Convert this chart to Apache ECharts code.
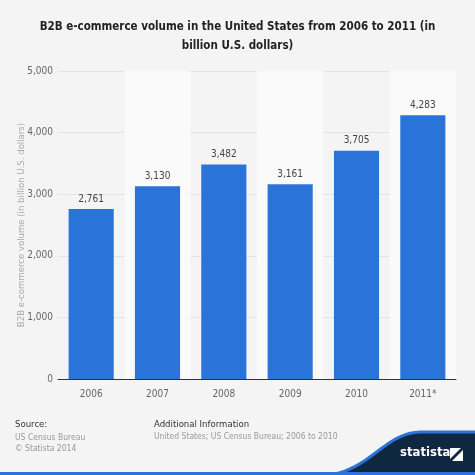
<!DOCTYPE html>
<html>
<head>
<meta charset="utf-8">
<script src="https://cdn.jsdelivr.net/npm/echarts@6/dist/echarts.min.js"></script>
<style>
  html, body { margin: 0; padding: 0; background: #f4f4f4; }
  #main { width: 475px; height: 475px; }
</style>
</head>
<body>
<div id="main"></div>
<script>
// data
const years = ['2006', '2007', '2008', '2009', '2010', '2011*'];
const volumes = [2761, 3130, 3482, 3161, 3705, 4283];
const yTicks = [0, 1000, 2000, 3000, 4000, 5000];

const FONT = '"DejaVu Sans Condensed", "Liberation Sans", sans-serif';

const chart = echarts.init(document.getElementById('main'));

function fmt(v) {
    return v.toString().replace(/\B(?=(\d{3})+(?!\d))/g, ',');
}

// logo wave outline (decoration only)
const wave = [];
const p0 = [328, 475], p1 = [370, 470], p2 = [385, 433], p3 = [420, 432];
for (let i = 0; i <= 20; i++) {
    const t = i / 20, u = 1 - t;
    wave.push([
        u * u * u * p0[0] + 3 * u * u * t * p1[0] + 3 * u * t * t * p2[0] + t * t * t * p3[0],
        u * u * u * p0[1] + 3 * u * u * t * p1[1] + 3 * u * t * t * p2[1] + t * t * t * p3[1]
    ]);
}
wave.push([475, 432]);

const option = {
    backgroundColor: '#f4f4f4',
    animation: false,
    title: {
        text: 'B2B e-commerce volume in the United States from 2006 to 2011 (in\nbillion U.S. dollars)',
        left: 'center',
        top: 13,
        textStyle: {
            fontFamily: FONT,
            fontSize: 11.5,
            fontWeight: 'bold',
            color: '#222',
            lineHeight: 19
        }
    },
    grid: {
        left: 58,
        right: 19,
        top: 71,
        bottom: 96
    },
    xAxis: {
        type: 'category',
        data: years,
        axisLine: { show: true, lineStyle: { color: '#333', width: 1 } },
        axisTick: { show: false },
        axisLabel: {
            color: '#666',
            fontFamily: FONT,
            fontSize: 10,
            margin: 10
        },
        splitArea: {
            show: true,
            areaStyle: { color: ['rgba(0,0,0,0)', '#fafafa'] }
        }
    },
    yAxis: {
        type: 'value',
        min: yTicks[0],
        max: yTicks[yTicks.length - 1],
        interval: 1000,
        name: 'B2B e-commerce volume (in billion U.S. dollars)',
        nameLocation: 'middle',
        nameGap: 31,
        nameMoveOverlap: false,
        nameTextStyle: {
            color: '#aaa',
            fontFamily: FONT,
            fontSize: 9.5
        },
        axisLine: { show: false },
        axisTick: { show: false },
        axisLabel: {
            color: '#666',
            fontFamily: FONT,
            fontSize: 10,
            margin: 5,
            formatter: fmt
        },
        splitLine: { lineStyle: { color: '#e3e3e3', width: 1 } }
    },
    series: [{
        type: 'bar',
        data: volumes,
        barWidth: '68%',
        itemStyle: { color: '#2a74d9' },
        label: {
            show: true,
            position: 'top',
            distance: 5,
            color: '#444',
            fontFamily: FONT,
            fontSize: 10,
            formatter: function (p) { return fmt(p.value); }
        }
    }],
    graphic: [
        {
            type: 'text', x: 15, y: 420,
            style: { text: 'Source:', fill: '#333', font: '9.5px ' + FONT }
        },
        {
            type: 'text', x: 15, y: 432,
            style: { text: 'US Census Bureau\n© Statista 2014', fill: '#999', font: '8.5px ' + FONT, lineHeight: 11 }
        },
        {
            type: 'text', x: 154, y: 420,
            style: { text: 'Additional Information', fill: '#333', font: '9.5px ' + FONT }
        },
        {
            type: 'text', x: 154, y: 432,
            style: { text: 'United States; US Census Bureau; 2006 to 2010', fill: '#999', font: '8.5px ' + FONT }
        },
        {
            type: 'polygon',
            shape: { points: wave.concat([[475, 475]]) },
            style: { fill: '#0f2740' }
        },
        {
            type: 'polyline',
            shape: { points: wave },
            style: { stroke: '#2a74d9', lineWidth: 3, fill: null }
        },
        {
            type: 'rect',
            shape: { x: 0, y: 472, width: 475, height: 3 },
            style: { fill: '#2a74d9' }
        },
        {
            type: 'text', x: 400, y: 446,
            style: { text: 'statista', fill: '#fff', font: 'bold 13px ' + FONT }
        },
        {
            type: 'polygon',
            shape: { points: [[450, 448], [461, 448], [450, 459]] },
            style: { fill: '#fff' }
        },
        {
            type: 'polygon',
            shape: { points: [[463, 450], [463, 461], [452, 461]] },
            style: { fill: '#fff' }
        }
    ]
};

chart.setOption(option);
</script>
</body>
</html>
